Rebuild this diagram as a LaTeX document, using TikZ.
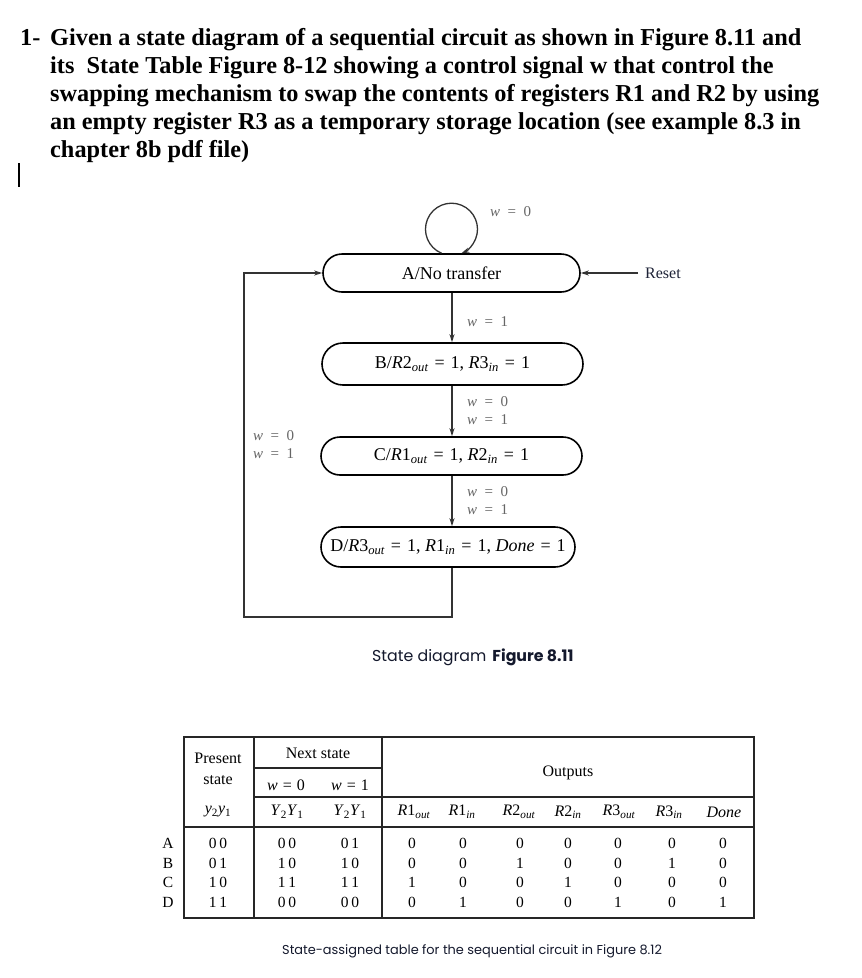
\documentclass[tikz,border=0pt]{standalone}
\usepackage{fontspec}
\setmainfont{Liberation Serif}
\newfontfamily\capfont{Poppins}
\usetikzlibrary{arrows.meta}
\newcommand\weq[1]{\textit{w}\hspace{7.5pt}=\hspace{7.5pt}#1}
\newcommand\teq[1]{\textit{w}\hspace{5pt}=\hspace{5pt}#1}
\newcommand\Rs[2]{\textit{R}#1\textsubscript{\itshape #2}}
\newcommand\sq{\hspace{6pt}=\hspace{6pt}}
\begin{document}
\begin{tikzpicture}[x=1pt,y=-1pt,
  ttl/.style={anchor=base west, inner sep=0, font=\fontsize{24.3}{29}\selectfont\bfseries},
  st/.style={draw, line width=1.6, inner sep=0, font=\fontsize{18}{21}\selectfont},
  lbl/.style={anchor=west, inner sep=0, font=\fontsize{15}{17}\selectfont, text=black!60},
  conn/.style={line width=1.3, draw=black!80},
  arr/.style={conn, -{Stealth[length=8pt,width=5pt]}},
  tb/.style={inner sep=0, font=\fontsize{16}{18}\selectfont},
  tv/.style={inner sep=0, font=\fontsize{15.5}{18}\selectfont},
  tline/.style={line width=1.4, draw=black!85}]
\useasboundingbox (0,0) rectangle (862,978);
\fill[white] (0,0) rectangle (862,978);

% question text
\node[ttl] (t0) at (20,45) {1-};
\node[ttl] (t1) at (50,45) {Given a state diagram of a sequential circuit as shown in Figure 8.11 and};
\node[ttl] (t2) at (50,73) {its~ State Table Figure 8-12 showing a control signal w that control the};
\node[ttl] (t3) at (50,101) {swapping mechanism to swap the contents of registers R1 and R2 by using};
\node[ttl] (t4) at (50,129) {an empty register R3 as a temporary storage location (see example 8.3 in};
\node[ttl] (t5) at (50,157) {chapter 8b pdf file)};
\draw[line width=1.5] (19,163) -- (19,187);

% states
\node[st, rounded corners=19, minimum width=257, minimum height=38] (A) at (451.5,273) {A/No transfer};
\node[st, rounded corners=21, minimum width=261, minimum height=42] (B) at (452.5,364) {B/\Rs{2}{out}\sq1, \Rs{3}{in}\sq1};
\node[st, rounded corners=19, minimum width=261, minimum height=38] (C) at (451.5,456) {C/\Rs{1}{out}\sq1, \Rs{2}{in}\sq1};
\node[st, rounded corners=20, minimum width=254, minimum height=40] (D) at (448,547) {D/\Rs{3}{out}\sq1, \Rs{1}{in}\sq1, \textit{Done}\sq1};

% self loop on A
\draw[arr] ([xshift=-10pt]A.north) arc[start angle=112.6, end angle=427.4, radius=26];
\node[lbl] (lA) at (490,212) {\weq{0}};

% reset
\node[inner sep=0, anchor=west, font=\fontsize{16}{18}\selectfont, text={rgb,255:red,30;green,35;blue,55}] (reset) at (645,273) {Reset};
\draw[arr] ([xshift=-7pt]reset.west) -- (A.east);

% vertical transitions
\draw[arr] (A.south -| 452,0) -- (B.north -| 452,0);
\node[lbl] (lAB) at (467,322) {\weq{1}};
\draw[arr] (B.south -| 452,0) -- (C.north -| 452,0);
\node[lbl] (lBC0) at (467,402) {\weq{0}};
\node[lbl] (lBC1) at (467,420) {\weq{1}};
\draw[arr] (C.south -| 452,0) -- (D.north -| 452,0);
\node[lbl] (lCD0) at (467,492) {\weq{0}};
\node[lbl] (lCD1) at (467,510) {\weq{1}};

% return loop D -> A
\coordinate (corner) at (244,617);
\draw[arr] (D.south -| 452,0) |- (corner) |- (A.west);
\node[lbl] (lDA0) at (253,436) {\weq{0}};
\node[lbl] (lDA1) at (253,454) {\weq{1}};

% caption 1
\node[inner sep=0, anchor=base west, font=\capfont\fontsize{15.8}{18}\selectfont, text={rgb,255:red,20;green,25;blue,45}] (cap1) at (372,661) {State diagram\hspace{6pt}\textbf{Figure 8.11}};

% table
\draw[tline] (184,737) rectangle (754,918);
\draw[tline] (254,737) -- (254,918);
\draw[tline] (382,737) -- (382,918);
\draw[tline] (254,768) -- (382,768);
\draw[tline] (254,797) -- (754,797);
\draw[tline] (184,827) -- (754,827);

\node[tb] (hP1) at (218,758) {Present};
\node[tb] (hP2) at (218,780) {state};
\node[tb] (hP3) at (218,812) {\textit{y}\textsubscript{2}\textit{y}\textsubscript{1}};
\node[tb] (hN) at (318,753) {Next state};
\node[tb] (hw0) at (286,785) {\teq{0}};
\node[tb] (hw1) at (350,785) {\teq{1}};
\node[tb] (hY0) at (287,812) {\textit{Y}\textsubscript{2}\textit{Y}\textsubscript{1}};
\node[tb] (hY1) at (350,812) {\textit{Y}\textsubscript{2}\textit{Y}\textsubscript{1}};
\node[tb] (hO) at (568,773) {Outputs};
\node[tb] (o1) at (414,812) {\Rs{1}{out}};
\node[tb] (o2) at (462,812) {\Rs{1}{in}};
\node[tb] (o3) at (519,812) {\Rs{2}{out}};
\node[tb] (o4) at (568,812) {\Rs{2}{in}};
\node[tb] (o5) at (619,812) {\Rs{3}{out}};
\node[tb] (o6) at (669,812) {\Rs{3}{in}};
\node[tb] (o7) at (724,812) {\textit{Done}};

\foreach \L/\y/\p/\na/\nb/\a/\b/\c/\d/\e/\f/\g in {
  A/843/0\,0/0\,0/0\,1/0/0/0/0/0/0/0,
  B/863/0\,1/1\,0/1\,0/0/0/1/0/0/1/0,
  C/882/1\,0/1\,1/1\,1/1/0/0/1/0/0/0,
  D/902/1\,1/0\,0/0\,0/0/1/0/0/1/0/1}{
  \node[tv] (L\L) at (168,\y) {\L};
  \node[tv] (p\L) at (218,\y) {\p};
  \node[tv] (na\L) at (287,\y) {\na};
  \node[tv] (nb\L) at (350,\y) {\nb};
  \node[tv] (a\L) at (412,\y) {\a};
  \node[tv] (b\L) at (463,\y) {\b};
  \node[tv] (c\L) at (520,\y) {\c};
  \node[tv] (d\L) at (568,\y) {\d};
  \node[tv] (e\L) at (618,\y) {\e};
  \node[tv] (f\L) at (672,\y) {\f};
  \node[tv] (g\L) at (723,\y) {\g};
}

% caption 2
\node[inner sep=0, anchor=base west, font=\capfont\fontsize{12.9}{15}\selectfont, text={rgb,255:red,20;green,25;blue,45}] (cap2) at (282,954) {State-assigned table for the sequential circuit in Figure 8.12};
\end{tikzpicture}
\end{document}
